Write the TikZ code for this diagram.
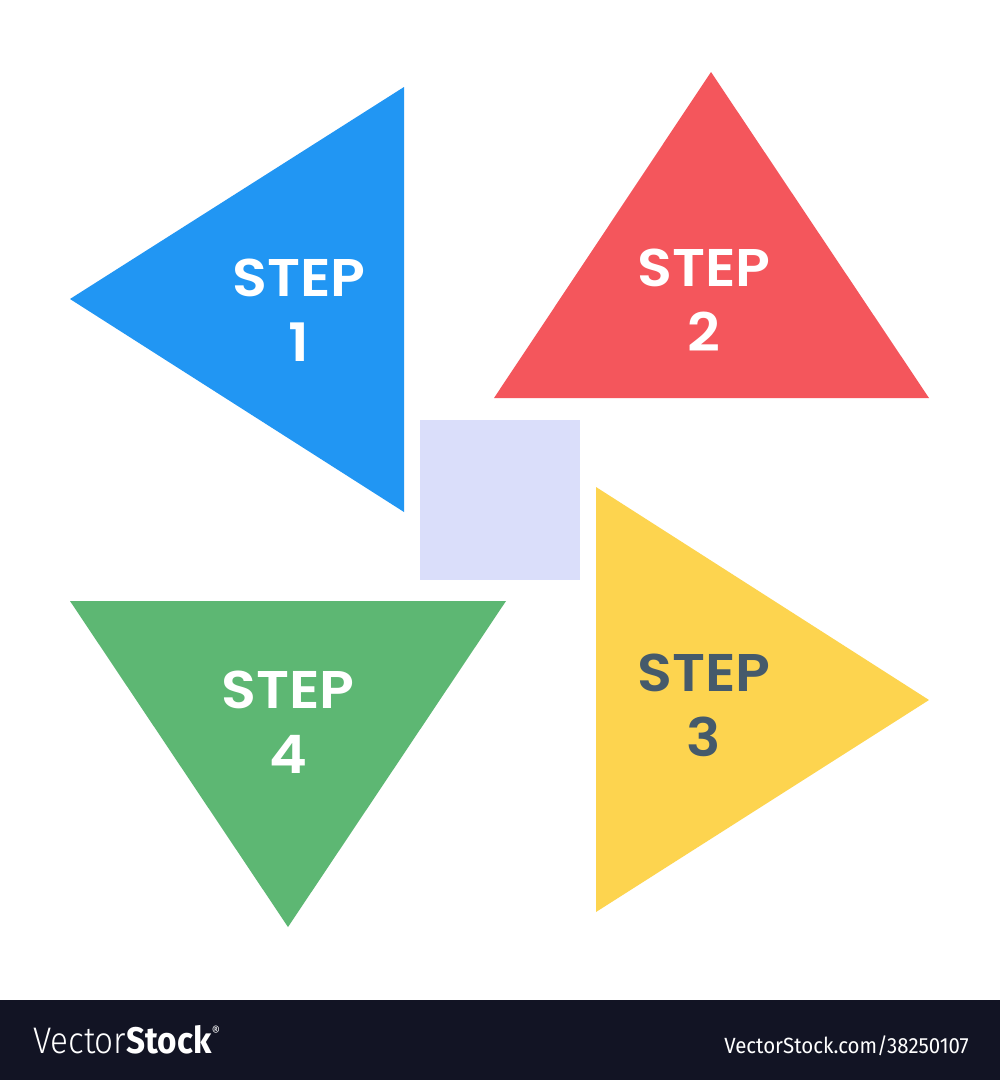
\documentclass[tikz,border=0pt]{standalone}
\usepackage{fontspec}
\setmainfont{Poppins}[BoldFont={Poppins SemiBold}]
\newfontfamily\footfont{Fira Sans}
\newfontfamily\footlight{Fira Sans Light}
\definecolor{stepblue}{HTML}{2196F3}
\definecolor{stepred}{HTML}{F4565C}
\definecolor{stepyellow}{HTML}{FDD44F}
\definecolor{stepgreen}{HTML}{5DB773}
\definecolor{hubcolor}{HTML}{DADEFA}
\definecolor{darktext}{HTML}{455A6B}
\definecolor{footcolor}{HTML}{121424}
\tikzset{
	steplabel/.style = {align=center, xscale=1.08,
		font=\fontsize{53}{65}\selectfont\bfseries},
}
\begin{document}
\begin{tikzpicture}[x=1pt, y=-1pt]
		\useasboundingbox[fill=white] (0, 0) rectangle (1000, 1080);
		% the four triangles and the square between them
		\fill[stepblue]   (70, 299) -- (404, 87) -- (404, 512) -- cycle;
		\fill[stepred]    (711, 72) -- (929, 398) -- (494, 398) -- cycle;
		\fill[stepyellow] (596, 487) -- (929, 700) -- (596, 912) -- cycle;
		\fill[stepgreen]  (70, 601) -- (506, 601) -- (288, 927) -- cycle;
		\fill[hubcolor]   (420, 420) rectangle (580, 580);
		\path (299, 310) node (Step1) [steplabel, text=white]    {STEP\\1};
		\path (704, 300) node (Step2) [steplabel, text=white]    {STEP\\2};
		\path (704, 705) node (Step3) [steplabel, text=darktext] {STEP\\3};
		\path (288, 722) node (Step4) [steplabel, text=white]    {STEP\\4};
		% footer band
		\fill[footcolor] (0, 1000) rectangle (1000, 1080);
		\path (30, 1040) node (Brand) [anchor=west, text=white, xscale=0.9,
			font=\footfont\fontsize{37}{37}\selectfont]
				{{\footlight Vector}\textbf{Stock}\raisebox{0.9ex}{\fontsize{14}{14}\selectfont ®}};
		\path (972, 1046) node (Link) [anchor=east, text=white, xscale=0.93,
			font=\footfont\fontsize{22}{22}\selectfont]
				{VectorStock.com/38250107};
	\end{tikzpicture}
\end{document}
